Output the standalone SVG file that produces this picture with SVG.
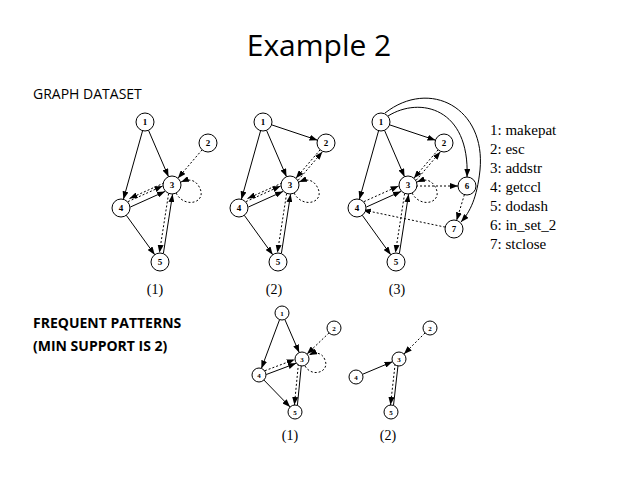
<svg xmlns="http://www.w3.org/2000/svg" xmlns:xlink="http://www.w3.org/1999/xlink" width="638" height="478" viewBox="0 0 638 478">
<style>
.n{fill:#fff;stroke:#000;stroke-width:1}
.nl{font-family:"Liberation Serif",serif;font-weight:bold;font-size:9px;text-anchor:middle}
.snl{font-family:"Liberation Serif",serif;font-weight:bold;font-size:7px;text-anchor:middle}
.s{stroke:#000;stroke-width:1;fill:none;marker-end:url(#a)}
.d{stroke:#000;stroke-width:1;stroke-dasharray:2,2;fill:none;marker-end:url(#a)}
.cap{font-family:"Liberation Serif",serif;font-size:14px;text-anchor:middle}
.lg{font-family:"Liberation Serif",serif;font-size:15px}
.h{font-family:"Open Sans","Liberation Sans",sans-serif;font-size:14px}
</style>
<defs>
<marker id="a" markerUnits="userSpaceOnUse" markerWidth="8" markerHeight="6" refX="8" refY="3" orient="auto"><path d="M0,0L8,3L0,6z" fill="#000"/></marker>
<g id="base">
<line class="s" x1="142.6" y1="130.7" x2="123.4" y2="199.3"/>
<line class="s" x1="148.5" y1="130.3" x2="168.5" y2="176.7"/>
<line class="d" x1="202.1" y1="149.8" x2="177.9" y2="178.2"/>
<line class="s" x1="130.4" y1="207" x2="165" y2="191.4"/>
<line class="d" x1="128" y1="201.6" x2="162.6" y2="186"/>
<line class="s" x1="126.3" y1="215.3" x2="154.7" y2="254.7"/>
<line class="s" x1="163.4" y1="253.4" x2="172.6" y2="194.2"/>
<line class="d" x1="168.6" y1="193.6" x2="159.4" y2="252.8"/>
<path class="d" d="M176,193 C185,210 210,202 198,185 C193,178 186,180 181,182"/>
</g>
<line id="e34" class="d" x1="164" y1="183" x2="129.5" y2="198.5"/>
<g id="e12">
<line class="s" x1="153.5" y1="124.8" x2="199.5" y2="140.2"/>
<line class="d" x1="180.2" y1="180.2" x2="204.4" y2="151.8"/>
</g>
</defs>
<text x="319" y="56" font-family="Open Sans,Liberation Sans,sans-serif" font-size="30" text-anchor="middle">Example 2</text>
<text class="h" x="33" y="99">GRAPH DATASET</text>
<text class="h" x="33" y="328" font-weight="bold">FREQUENT PATTERNS</text>
<text class="h" x="33" y="351" font-weight="bold">(MIN SUPPORT IS 2)</text>
<g id="connectors">
<use xlink:href="#base"/><use xlink:href="#e34"/>
<use xlink:href="#base" x="118"/><use xlink:href="#e34" x="118"/><use xlink:href="#e12" x="118"/>
<use xlink:href="#base" x="236"/><use xlink:href="#e12" x="236"/>
<line class="d" x1="416" y1="186" x2="458" y2="186"/>
<line class="d" x1="464.4" y1="194.6" x2="456.6" y2="220.4"/>
<line class="d" x1="445.2" y1="227.1" x2="362.8" y2="209.9"/>
<path class="s" d="M388,116 C420,96 470,108 467,177"/>
<path class="s" d="M385,113 C430,78 486,108 480,170 C477,198 470,212 461,222"/>
<line class="s" x1="279.6" y1="319.6" x2="261.4" y2="368.4"/>
<line class="s" x1="284.8" y1="319.4" x2="299.2" y2="352.6"/>
<line class="d" x1="329" y1="332.9" x2="307" y2="354.1"/>
<line class="s" x1="266.3" y1="374.5" x2="296.1" y2="363.3"/>
<line class="d" x1="264.9" y1="370.7" x2="294.7" y2="359.5"/>
<line class="s" x1="263.9" y1="380" x2="290.1" y2="407"/>
<line class="s" x1="297.4" y1="405.3" x2="302.6" y2="352.3"/>
<line class="d" x1="299.6" y1="352" x2="294.4" y2="405"/>
<path class="d" d="M305,366 C312,378 330,372 325,360 C322,352 315,352 309,355"/>
<line class="d" x1="425" y1="333" x2="404" y2="354"/>
<line class="s" x1="362.5" y1="374.3" x2="392.5" y2="361.7"/>
<line class="s" x1="393.5" y1="405.3" x2="399.5" y2="352.3"/>
<line class="d" x1="396.5" y1="352" x2="390.5" y2="405"/>
</g>
<g id="g1n1"><circle class="n" cx="145" cy="122" r="9"/><text class="nl" x="145" y="125">1</text></g>
<g id="g1n2"><circle class="n" cx="208" cy="143" r="9"/><text class="nl" x="208" y="146">2</text></g>
<g id="g1n3"><circle class="n" cx="172" cy="185" r="9"/><text class="nl" x="172" y="188">3</text></g>
<g id="g1n4"><circle class="n" cx="121" cy="208" r="9"/><text class="nl" x="121" y="211">4</text></g>
<g id="g1n5"><circle class="n" cx="160" cy="262" r="9"/><text class="nl" x="160" y="265">5</text></g>
<g id="g2n1"><circle class="n" cx="263" cy="122" r="9"/><text class="nl" x="263" y="125">1</text></g>
<g id="g2n2"><circle class="n" cx="326" cy="143" r="9"/><text class="nl" x="326" y="146">2</text></g>
<g id="g2n3"><circle class="n" cx="290" cy="185" r="9"/><text class="nl" x="290" y="188">3</text></g>
<g id="g2n4"><circle class="n" cx="239" cy="208" r="9"/><text class="nl" x="239" y="211">4</text></g>
<g id="g2n5"><circle class="n" cx="278" cy="262" r="9"/><text class="nl" x="278" y="265">5</text></g>
<g id="g3n1"><circle class="n" cx="381" cy="122" r="9"/><text class="nl" x="381" y="125">1</text></g>
<g id="g3n2"><circle class="n" cx="444" cy="143" r="9"/><text class="nl" x="444" y="146">2</text></g>
<g id="g3n3"><circle class="n" cx="408" cy="185" r="9"/><text class="nl" x="408" y="188">3</text></g>
<g id="g3n4"><circle class="n" cx="357" cy="208" r="9"/><text class="nl" x="357" y="211">4</text></g>
<g id="g3n5"><circle class="n" cx="396" cy="262" r="9"/><text class="nl" x="396" y="265">5</text></g>
<g id="g3n6"><circle class="n" cx="467" cy="186" r="9"/><text class="nl" x="467" y="189">6</text></g>
<g id="g3n7"><circle class="n" cx="454" cy="229" r="9"/><text class="nl" x="454" y="232">7</text></g>
<g id="legend">
<text class="lg" x="490" y="135">1: makepat</text>
<text class="lg" x="490" y="154">2: esc</text>
<text class="lg" x="490" y="173">3: addstr</text>
<text class="lg" x="490" y="192">4: getccl</text>
<text class="lg" x="490" y="211">5: dodash</text>
<text class="lg" x="490" y="230">6: in_set_2</text>
<text class="lg" x="490" y="249">7: stclose</text>
</g>
<text class="cap" x="155" y="294">(1)</text>
<text class="cap" x="274" y="294">(2)</text>
<text class="cap" x="397" y="294">(3)</text>
<g id="p1n1"><circle class="n" cx="282" cy="313" r="7"/><text class="snl" x="282" y="315.5">1</text></g>
<g id="p1n2"><circle class="n" cx="334" cy="328" r="7"/><text class="snl" x="334" y="330.5">2</text></g>
<g id="p1n3"><circle class="n" cx="302" cy="359" r="7"/><text class="snl" x="302" y="361.5">3</text></g>
<g id="p1n4"><circle class="n" cx="259" cy="375" r="7"/><text class="snl" x="259" y="377.5">4</text></g>
<g id="p1n5"><circle class="n" cx="295" cy="412" r="7"/><text class="snl" x="295" y="414.5">5</text></g>
<g id="p2n2"><circle class="n" cx="430" cy="328" r="7"/><text class="snl" x="430" y="330.5">2</text></g>
<g id="p2n3"><circle class="n" cx="399" cy="359" r="7"/><text class="snl" x="399" y="361.5">3</text></g>
<g id="p2n4"><circle class="n" cx="356" cy="377" r="7"/><text class="snl" x="356" y="379.5">4</text></g>
<g id="p2n5"><circle class="n" cx="391" cy="412" r="7"/><text class="snl" x="391" y="414.5">5</text></g>
<text class="cap" x="290" y="440" font-size="11">(1)</text>
<text class="cap" x="388" y="440" font-size="11">(2)</text>
</svg>
